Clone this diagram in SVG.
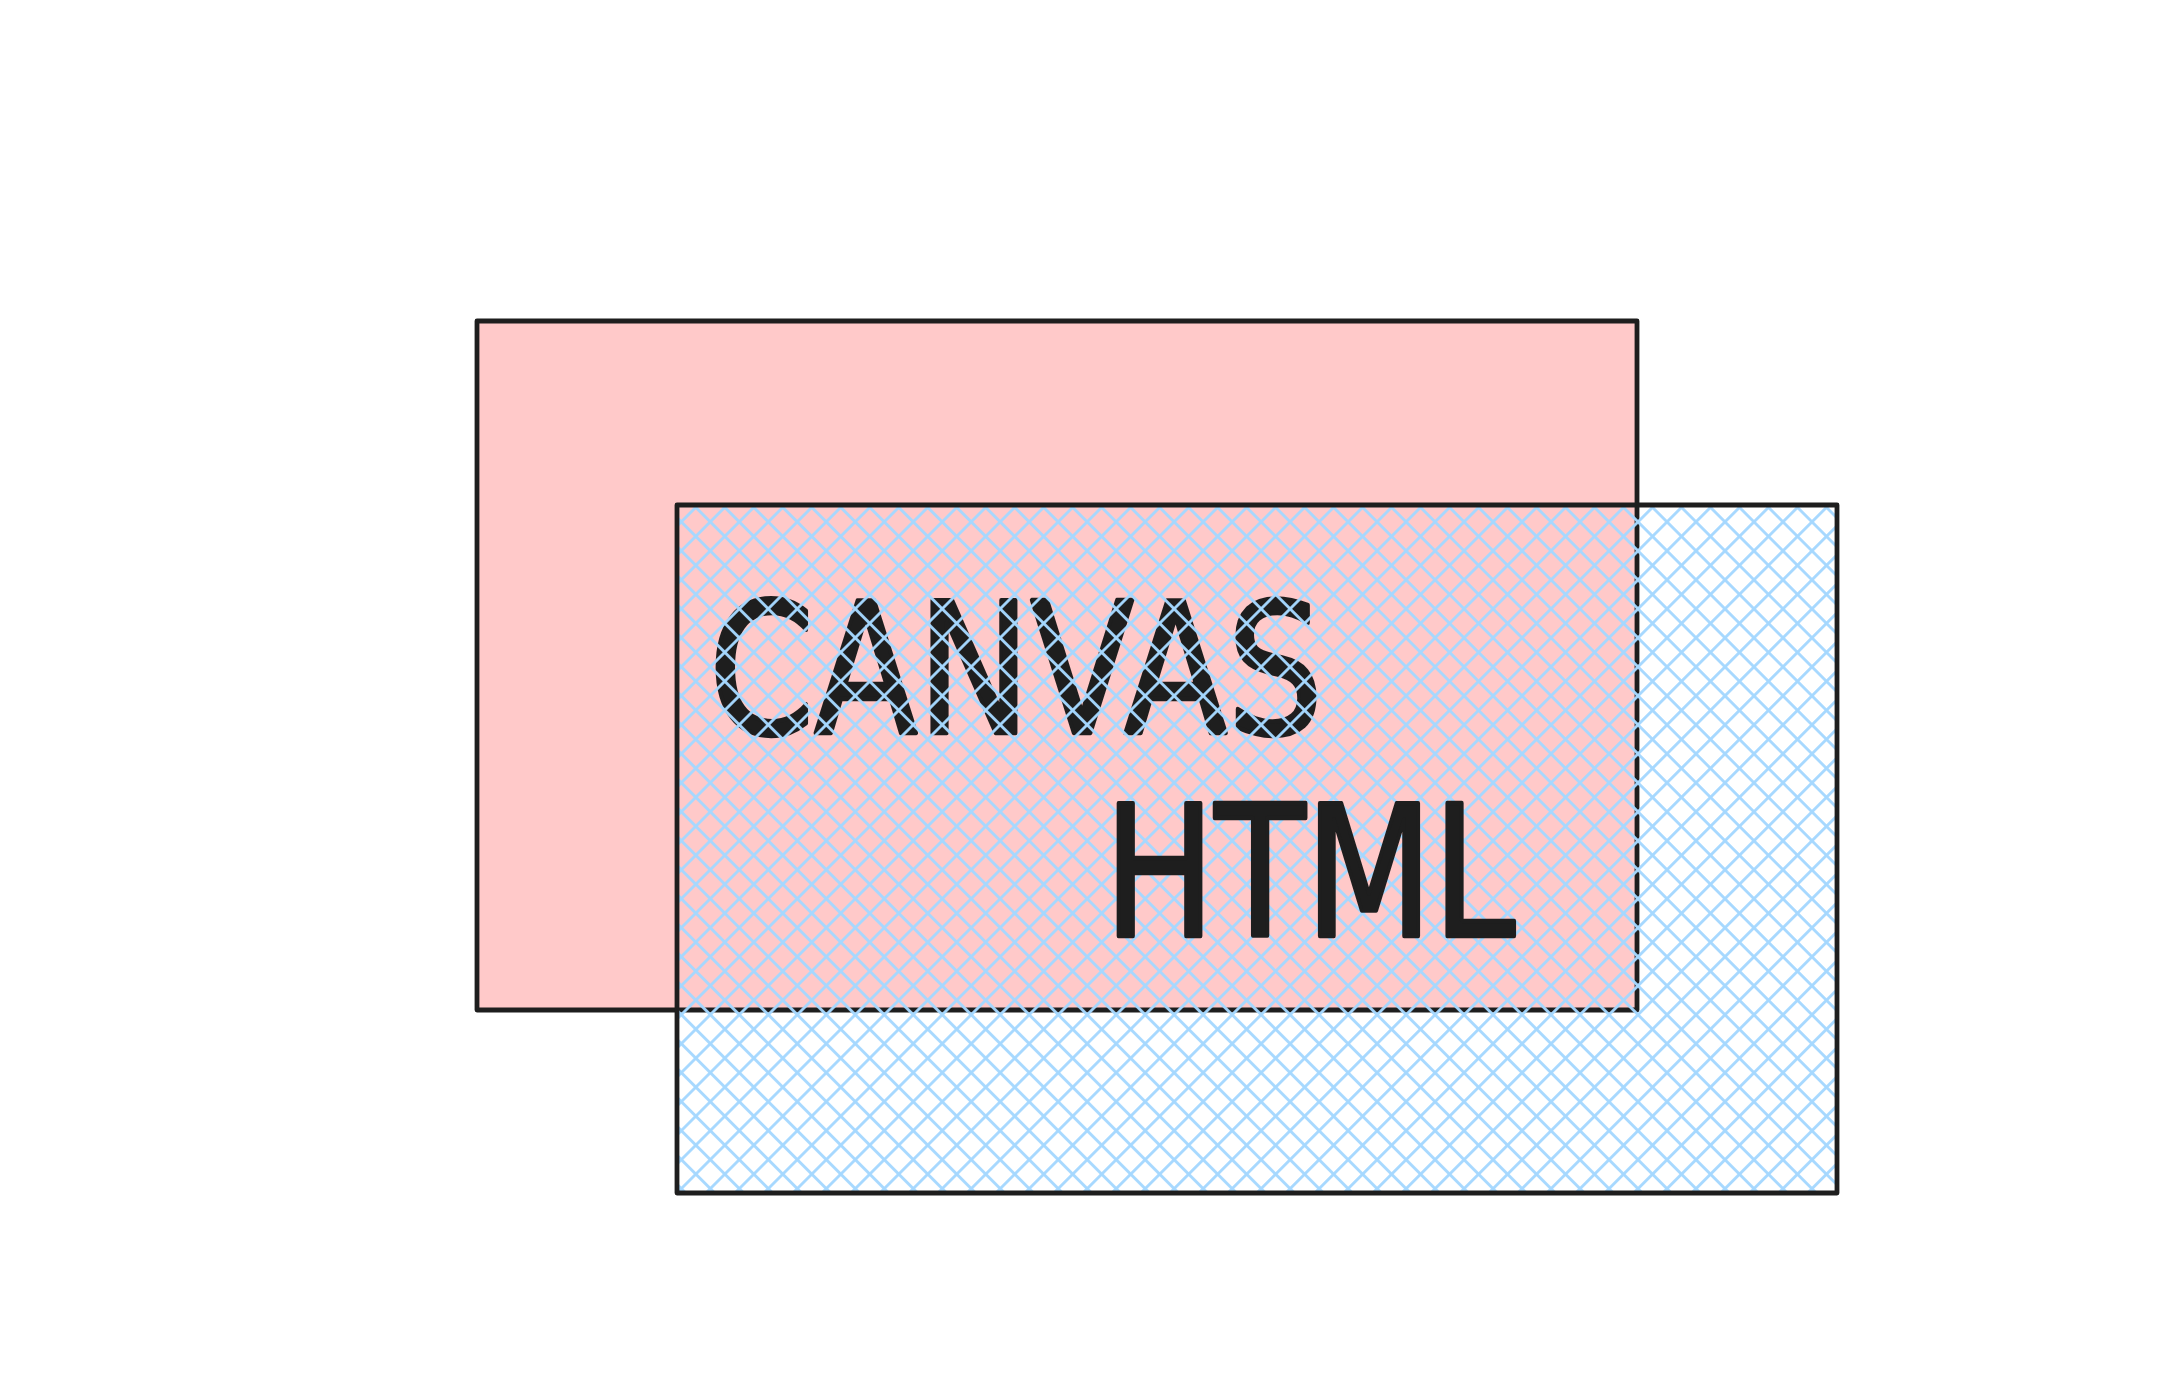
<svg xmlns="http://www.w3.org/2000/svg" width="2157" height="1383" viewBox="0 0 2157 1383">
  <defs>
    <pattern id="hatch" patternUnits="userSpaceOnUse" width="20.5" height="20.5" patternTransform="rotate(45)">
      <line x1="-1" y1="10.25" x2="21.5" y2="10.25" stroke="#a5d8ff" stroke-width="2.8"/>
      <line x1="10.25" y1="-1" x2="10.25" y2="21.5" stroke="#a5d8ff" stroke-width="2.8"/>
    </pattern>
    <style>
      .box { stroke: #1e1e1e; stroke-width: 4.8; stroke-linejoin: round; }
      .label { font-family: "DejaVu Sans", "Liberation Sans", sans-serif; font-weight: normal; fill: #1e1e1e; stroke: #1e1e1e; stroke-width: 4.5; stroke-linejoin: round; stroke-linecap: round; font-size: 182px; }
    </style>
  </defs>
  <rect width="2157" height="1383" fill="#ffffff"/>
  <g id="canvas-node">
    <rect class="box" x="477" y="321" width="1160" height="689" fill="#ffc9c9"/>
    <text class="label" x="709" y="733" textLength="614" lengthAdjust="spacingAndGlyphs">CANVAS</text>
  </g>
  <g id="html-node">
    <rect class="box" x="677" y="505" width="1160" height="688" fill="url(#hatch)"/>
    <text class="label" x="1104" y="936" textLength="411" lengthAdjust="spacingAndGlyphs">HTML</text>
  </g>
  <g id="connectors"/>
</svg>
